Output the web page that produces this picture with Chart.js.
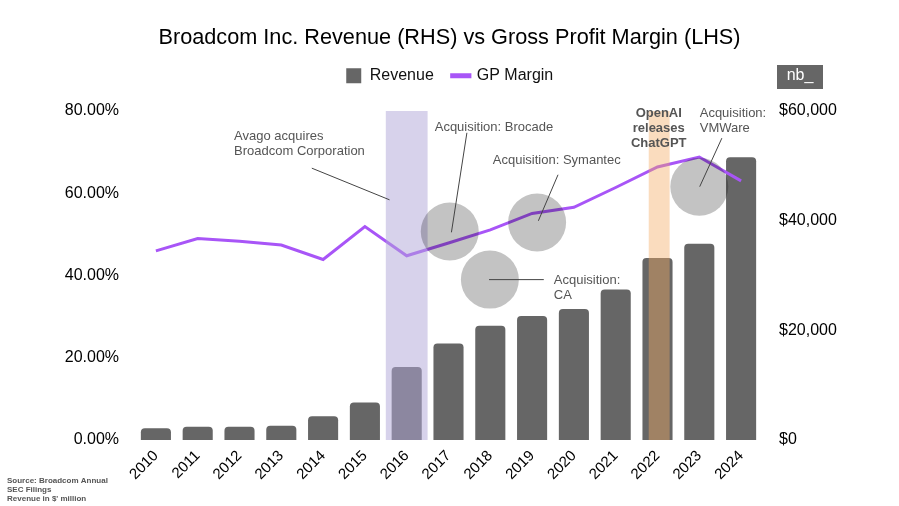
<!DOCTYPE html>
<html>
<head>
<meta charset="utf-8">
<title>Broadcom Revenue vs GP Margin</title>
<script src="https://cdn.jsdelivr.net/npm/chart.js@4.4.1/dist/chart.umd.min.js"></script>
<style>
  html, body { margin: 0; padding: 0; background: #fff; }
  #wrap { width: 899px; height: 506px; position: relative; }
</style>
</head>
<body>
<div id="wrap"><canvas id="chart"></canvas></div>
<script>
// data
const years = ['2010', '2011', '2012', '2013', '2014', '2015', '2016', '2017',
               '2018', '2019', '2020', '2021', '2022', '2023', '2024'];
const revenue = [2150, 2400, 2400, 2600, 4350, 6850, 13300, 17600,
                 20850, 22600, 23900, 27450, 33200, 35800, 51550];   // $ million
const gpMargin = [46.0, 49.0, 48.3, 47.4, 43.9, 51.9, 44.8, 47.9,
                  51.1, 55.1, 56.6, 61.4, 66.4, 68.8, 63.0];         // %
const marginTicks = [0, 20, 40, 60, 80];
const revenueTicks = [0, 20000, 40000, 60000];
const sourceLines = ['Source: Broadcom Annual', 'SEC Filings', "Revenue in $' million"];

// annotations, in chart units (x = category index, y = margin %)
const bands = [
  { at: 6, width: 1, color: 'rgba(176,167,216,0.51)' },
  { at: 12.04, width: 0.5, color: 'rgba(243,170,96,0.41)' }
];
const bubbles = [
  { x: 7.03, y: 50.7 },
  { x: 7.99, y: 39.0 },
  { x: 9.12, y: 52.9 },
  { x: 13.0, y: 61.6 }
];
const leaders = [
  { x1: 3.73, y1: 66.1, x2: 5.59, y2: 58.4 },
  { x1: 7.44, y1: 74.7, x2: 7.07, y2: 50.5 },
  { x1: 9.62, y1: 64.5, x2: 9.15, y2: 53.3 },
  { x1: 7.97, y1: 39.0, x2: 9.28, y2: 39.0 },
  { x1: 13.54, y1: 73.4, x2: 13.01, y2: 61.6 }
];
const notes = [
  { lines: ['Avago acquires', 'Broadcom Corporation'], x: 1.87, y: 73.7, align: 'left' },
  { lines: ['Acquisition: Brocade'], x: 6.67, y: 75.9, align: 'left' },
  { lines: ['Acquisition: Symantec'], x: 8.06, y: 68.1, align: 'left' },
  { lines: ['Acquisition:', 'CA'], x: 9.52, y: 38.8, align: 'left' },
  { lines: ['OpenAI', 'releases', 'ChatGPT'], x: 12.03, y: 79.5, align: 'center', bold: true },
  { lines: ['Acquisition:', 'VMWare'], x: 13.01, y: 79.3, align: 'left' }
];

Chart.defaults.font.family = "'Liberation Sans', Arial, sans-serif";
Chart.defaults.color = '#000';

const overlays = {
  id: 'overlays',
  afterDatasetsDraw(chart) {
    const { ctx, chartArea: area, scales } = chart;
    const px = v => scales.x.getPixelForValue(v);
    const py = v => scales.y.getPixelForValue(v);
    const step = px(1) - px(0);
    ctx.save();

    bands.forEach(b => {
      ctx.fillStyle = b.color;
      ctx.fillRect(px(b.at) - step * b.width / 2, area.top, step * b.width, area.bottom - area.top);
    });

    ctx.globalCompositeOperation = 'multiply';
    ctx.fillStyle = 'rgb(195,195,195)';
    bubbles.forEach(b => {
      ctx.beginPath();
      ctx.arc(px(b.x), py(b.y), 29, 0, Math.PI * 2);
      ctx.fill();
    });
    ctx.globalCompositeOperation = 'source-over';

    ctx.strokeStyle = '#444';
    ctx.lineWidth = 1;
    leaders.forEach(l => {
      ctx.beginPath();
      ctx.moveTo(px(l.x1), py(l.y1));
      ctx.lineTo(px(l.x2), py(l.y2));
      ctx.stroke();
    });

    ctx.fillStyle = '#555';
    ctx.textBaseline = 'middle';
    notes.forEach(n => {
      ctx.font = (n.bold ? 'bold ' : '') + "13px 'Liberation Sans', Arial, sans-serif";
      ctx.textAlign = n.align;
      n.lines.forEach((t, i) => ctx.fillText(t, px(n.x), py(n.y) + i * 15));
    });
    ctx.restore();
  },
  afterDraw(chart) {
    const { ctx } = chart;
    ctx.save();
    // nb_ badge
    ctx.fillStyle = '#666';
    ctx.fillRect(777, 65, 46, 24);
    ctx.fillStyle = '#fff';
    ctx.font = "16px 'Liberation Sans', Arial, sans-serif";
    ctx.textAlign = 'center';
    ctx.textBaseline = 'middle';
    ctx.fillText('nb_', 800, 76);
    // source note
    ctx.fillStyle = '#555';
    ctx.font = "bold 8px 'Liberation Sans', Arial, sans-serif";
    ctx.textAlign = 'left';
    sourceLines.forEach((t, i) => ctx.fillText(t, 7, 481 + i * 9));
    ctx.restore();
  }
};

new Chart(document.getElementById('chart'), {
  data: {
    labels: years,
    datasets: [
      {
        type: 'bar',
        label: 'Revenue',
        data: revenue,
        yAxisID: 'y1',
        backgroundColor: '#666666',
        borderRadius: 4,
        barPercentage: 0.72,
        categoryPercentage: 1,
        order: 1
      },
      {
        type: 'line',
        label: 'GP Margin',
        data: gpMargin,
        yAxisID: 'y',
        borderColor: 'rgb(168,85,247)',
        backgroundColor: 'rgb(168,85,247)',
        borderWidth: 3,
        pointRadius: 0,
        tension: 0,
        order: 0
      }
    ]
  },
  options: {
    responsive: true,
    maintainAspectRatio: false,
    animation: false,
    layout: { padding: 0 },
    plugins: {
      title: {
        display: true,
        text: 'Broadcom Inc. Revenue (RHS) vs Gross Profit Margin (LHS)',
        font: { size: 21.7, weight: 'normal', lineHeight: 1 },
        color: '#000',
        padding: { top: 27, bottom: 0 }
      },
      // empty spacer between legend and plot
      subtitle: {
        display: true,
        text: '',
        weight: 500,
        font: { size: 1, lineHeight: 1 },
        padding: { top: 16.3, bottom: 0 }
      },
      legend: {
        labels: {
          font: { size: 16 },
          color: '#111',
          padding: 19,
          boxHeight: 15,
          usePointStyle: true,
          sort: (a, b) => a.datasetIndex - b.datasetIndex,
          generateLabels(chart) {
            return chart.data.datasets.map((ds, i) => ({
              text: ds.label,
              datasetIndex: i,
              fillStyle: ds.type === 'bar' ? ds.backgroundColor : ds.borderColor,
              strokeStyle: ds.type === 'bar' ? ds.backgroundColor : ds.borderColor,
              lineWidth: ds.type === 'bar' ? 0 : 5,
              pointStyle: ds.type === 'bar' ? 'rect' : 'line',
              fontColor: '#111'
            }));
          }
        }
      },
      tooltip: { enabled: false }
    },
    scales: {
      x: {
        grid: { display: false, drawTicks: false },
        border: { display: false },
        ticks: { font: { size: 15 }, color: '#000', minRotation: 45, maxRotation: 45, padding: 7 },
        afterFit(scale) { scale.height = 66; }
      },
      y: {
        position: 'left',
        min: 0,
        max: 80,
        grid: { display: false, drawTicks: false },
        border: { display: false },
        afterBuildTicks(scale) { scale.ticks = marginTicks.map(v => ({ value: v })); },
        ticks: { font: { size: 16 }, color: '#000', padding: 16, callback: v => v.toFixed(2) + '%' },
        afterFit(scale) { scale.width = 135; }
      },
      y1: {
        position: 'right',
        min: 0,
        max: 60000,
        grid: { display: false, drawTicks: false },
        border: { display: false },
        afterBuildTicks(scale) { scale.ticks = revenueTicks.map(v => ({ value: v })); },
        ticks: { font: { size: 16 }, color: '#000', padding: 17, callback: v => '$' + v.toLocaleString('en-US') },
        afterFit(scale) { scale.width = 137; }
      }
    }
  },
  plugins: [overlays]
});
</script>
</body>
</html>
